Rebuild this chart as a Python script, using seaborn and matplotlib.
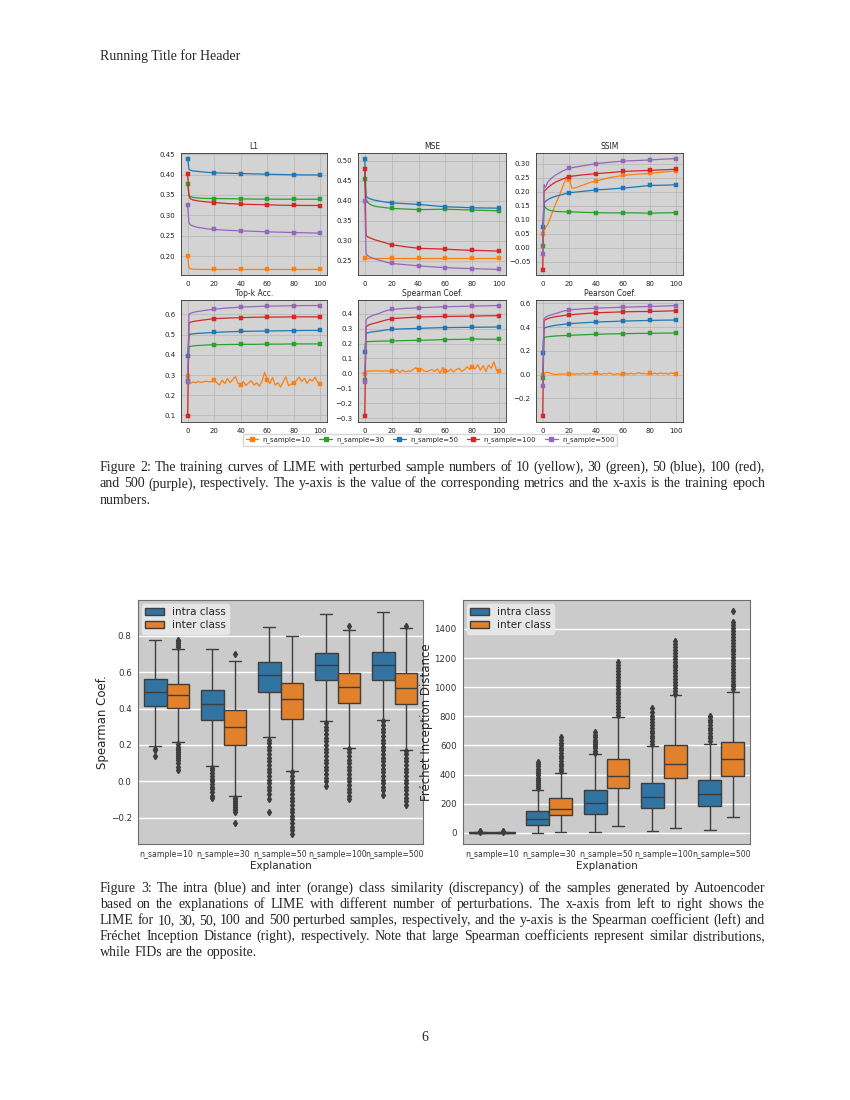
import matplotlib
matplotlib.use("Agg")
import matplotlib.pyplot as plt
from matplotlib.lines import Line2D
from matplotlib.ticker import MultipleLocator
import pandas as pd
import seaborn as sns

sns.set_theme(style="white")
plt.rcParams["font.family"] = ["DejaVu Sans"]

# ---------------------------------------------------------------- data: training curves
series_labels = ["n_sample=10", "n_sample=30", "n_sample=50", "n_sample=100", "n_sample=500"]
series_colors = ["#ff7f0e", "#2ca02c", "#1f77b4", "#d62728", "#9467bd"]

epochs = [0, 1, 2, 4, 7, 10, 15, 20, 30, 40, 50, 60, 70, 80, 90, 100]
epochs_fine = [0, 1] + list(range(2, 101, 2))
epochs_ssim10 = [0, 2, 4, 6, 8, 10, 12, 14, 16, 18, 19, 20, 21, 22, 24, 26, 28, 30, 35, 40,
                 50, 60, 70, 80, 90, 100]

l1_n10 = [0.200, 0.172, 0.169, 0.168, 0.1678, 0.1676, 0.1675, 0.1674, 0.1674, 0.1674, 0.1674, 0.1674, 0.1674, 0.1674, 0.1674, 0.1674]
l1_n30 = [0.377, 0.350, 0.346, 0.344, 0.343, 0.342, 0.3415, 0.3413, 0.341, 0.3405, 0.340, 0.3398, 0.3397, 0.3397, 0.3396, 0.3396]
l1_n50 = [0.4394, 0.414, 0.411, 0.409, 0.408, 0.407, 0.4055, 0.4043, 0.4035, 0.4026, 0.4018, 0.401, 0.4002, 0.3995, 0.3993, 0.3992]
l1_n100 = [0.4026, 0.347, 0.341, 0.338, 0.336, 0.3345, 0.333, 0.3315, 0.329, 0.3275, 0.3267, 0.326, 0.325, 0.3245, 0.3243, 0.3242]
l1_n500 = [0.325, 0.282, 0.277, 0.274, 0.271, 0.2695, 0.267, 0.2654, 0.2635, 0.262, 0.261, 0.2596, 0.2588, 0.258, 0.2572, 0.2564]

mse_n10 = [0.2567, 0.2567, 0.2567, 0.2567, 0.2567, 0.2567, 0.2567, 0.2567, 0.2567, 0.2567, 0.2567, 0.2567, 0.2567, 0.2567, 0.2567, 0.2567]
mse_n30 = [0.455, 0.405, 0.397, 0.391, 0.387, 0.385, 0.383, 0.381, 0.3795, 0.378, 0.3785, 0.379, 0.378, 0.3767, 0.376, 0.375]
mse_n50 = [0.506, 0.412, 0.408, 0.405, 0.402, 0.400, 0.397, 0.395, 0.393, 0.391, 0.388, 0.385, 0.384, 0.3825, 0.382, 0.3817]
mse_n100 = [0.480, 0.314, 0.310, 0.307, 0.303, 0.300, 0.295, 0.290, 0.285, 0.281, 0.280, 0.279, 0.277, 0.276, 0.275, 0.274]
mse_n500 = [0.399, 0.268, 0.263, 0.259, 0.255, 0.252, 0.247, 0.243, 0.240, 0.237, 0.2345, 0.2325, 0.231, 0.230, 0.229, 0.228]

ssim_n10 = [0.048, 0.070, 0.085, 0.110, 0.135, 0.160, 0.180, 0.205, 0.230, 0.252, 0.250, 0.242, 0.225, 0.212, 0.213, 0.216, 0.220, 0.223, 0.232, 0.238,
            0.250, 0.258, 0.262, 0.265, 0.270, 0.274]
ssim_n30 = [0.005, 0.152, 0.143, 0.135, 0.131, 0.129, 0.128, 0.128, 0.126, 0.125, 0.124, 0.124, 0.124, 0.123, 0.124, 0.125]
ssim_n50 = [0.072, 0.158, 0.165, 0.172, 0.179, 0.184, 0.190, 0.196, 0.201, 0.206, 0.209, 0.2125, 0.217, 0.222, 0.223, 0.2245]
ssim_n100 = [-0.079, 0.200, 0.205, 0.215, 0.226, 0.235, 0.245, 0.254, 0.260, 0.264, 0.268, 0.272, 0.274, 0.276, 0.278, 0.280]
ssim_n500 = [-0.024, 0.225, 0.215, 0.235, 0.250, 0.260, 0.274, 0.284, 0.292, 0.300, 0.305, 0.309, 0.311, 0.313, 0.316, 0.318]

topk_n10 = [0.297, 0.262, 0.258, 0.266, 0.262, 0.268, 0.263, 0.266, 0.270, 0.266, 0.268, 0.273, 0.262, 0.250, 0.275, 0.258,
            0.283, 0.262, 0.278, 0.293, 0.258, 0.251, 0.268, 0.248, 0.262, 0.272, 0.250, 0.262, 0.245, 0.268, 0.314, 0.276,
            0.258, 0.288, 0.250, 0.262, 0.240, 0.266, 0.292, 0.248, 0.255, 0.263, 0.272, 0.290, 0.268, 0.284, 0.258, 0.280,
            0.270, 0.290, 0.262, 0.255]
topk_n30 = [0.270, 0.440, 0.442, 0.444, 0.446, 0.447, 0.449, 0.450, 0.451, 0.452, 0.452, 0.453, 0.453, 0.454, 0.454, 0.454]
topk_n50 = [0.396, 0.498, 0.502, 0.504, 0.506, 0.507, 0.509, 0.511, 0.514, 0.516, 0.517, 0.518, 0.519, 0.520, 0.521, 0.521]
topk_n100 = [0.095, 0.556, 0.561, 0.565, 0.568, 0.571, 0.575, 0.579, 0.582, 0.584, 0.586, 0.587, 0.587, 0.588, 0.588, 0.588]
topk_n500 = [0.268, 0.600, 0.605, 0.610, 0.614, 0.617, 0.622, 0.626, 0.632, 0.636, 0.639, 0.641, 0.642, 0.643, 0.644, 0.644]

spear_n10 = [-0.004, 0.012, 0.016, 0.015, 0.017, 0.016, 0.017, 0.015, 0.016, 0.017, 0.016, 0.016, 0.012, 0.026, 0.006, 0.022,
             0.010, 0.016, 0.014, 0.027, 0.038, 0.022, 0.032, 0.016, 0.012, 0.018, 0.026, 0.012, 0.030, 0.002, 0.040, 0.016,
             0.012, 0.028, 0.010, 0.026, 0.034, 0.014, 0.024, 0.044, 0.028, 0.044, 0.030, 0.058, 0.022, 0.052, 0.012, 0.056,
             0.034, 0.078, 0.020, 0.018]
spear_n30 = [-0.044, 0.211, 0.213, 0.214, 0.215, 0.216, 0.217, 0.218, 0.220, 0.222, 0.224, 0.227, 0.228, 0.231, 0.229, 0.229]
spear_n50 = [0.144, 0.267, 0.272, 0.276, 0.280, 0.283, 0.290, 0.296, 0.299, 0.302, 0.305, 0.307, 0.308, 0.309, 0.310, 0.311]
spear_n100 = [-0.289, 0.311, 0.320, 0.328, 0.336, 0.343, 0.356, 0.367, 0.373, 0.378, 0.380, 0.382, 0.383, 0.384, 0.386, 0.387]
spear_n500 = [-0.055, 0.356, 0.370, 0.381, 0.392, 0.400, 0.418, 0.429, 0.436, 0.440, 0.444, 0.447, 0.449, 0.451, 0.453, 0.455]

pear_n10 = [0.000, 0.010, 0.016, 0.020, 0.010, 0.002, 0.000, 0.004, 0.003, 0.005, 0.004, 0.004, 0.006, 0.002, 0.008, 0.004,
            0.010, 0.003, 0.006, 0.012, 0.004, 0.012, 0.006, 0.002, 0.010, 0.004, 0.014, 0.004, 0.000, 0.008, 0.002, 0.004,
            0.010, 0.002, 0.012, 0.004, 0.008, 0.016, 0.006, 0.010, 0.004, 0.017, 0.006, 0.012, 0.004, 0.014, 0.006, 0.012,
            0.002, 0.014, 0.008, 0.006]
pear_n30 = [-0.032, 0.311, 0.315, 0.319, 0.322, 0.325, 0.328, 0.330, 0.335, 0.339, 0.342, 0.344, 0.346, 0.347, 0.349, 0.350]
pear_n50 = [0.182, 0.386, 0.395, 0.402, 0.410, 0.415, 0.422, 0.428, 0.436, 0.442, 0.446, 0.450, 0.453, 0.456, 0.458, 0.459]
pear_n100 = [-0.353, 0.450, 0.462, 0.472, 0.481, 0.488, 0.496, 0.503, 0.512, 0.520, 0.524, 0.528, 0.530, 0.531, 0.534, 0.537]
pear_n500 = [-0.094, 0.470, 0.482, 0.494, 0.505, 0.514, 0.533, 0.545, 0.553, 0.559, 0.563, 0.567, 0.570, 0.573, 0.577, 0.581]

# ---------------------------------------------------------------- data: box plots
box_groups = ["n_sample=10", "n_sample=30", "n_sample=50", "n_sample=100", "n_sample=500"]
box_classes = ["intra class", "inter class"]
box_colors = ["#1f77b4", "#ff7f0e"]

# (lower whisker, q1, median, q3, upper whisker)
sp_intra_stats = [(0.192, 0.415, 0.49, 0.565, 0.78), (0.085, 0.335, 0.425, 0.505, 0.73),
                  (0.245, 0.49, 0.585, 0.655, 0.85), (0.332, 0.555, 0.64, 0.705, 0.92),
                  (0.34, 0.56, 0.64, 0.71, 0.933)]
sp_inter_stats = [(0.215, 0.405, 0.475, 0.535, 0.728), (-0.08, 0.20, 0.30, 0.39, 0.66),
                  (0.055, 0.345, 0.455, 0.54, 0.80), (0.185, 0.43, 0.52, 0.595, 0.835),
                  (0.175, 0.425, 0.515, 0.595, 0.845)]
sp_intra_fliers = [
    [0.18, 0.17, 0.14],
    [0.075, 0.06, 0.045, 0.03, 0.015, 0.0, -0.015, -0.03, -0.045, -0.06, -0.08, -0.09],
    [0.23, 0.21, 0.19, 0.17, 0.15, 0.13, 0.11, 0.09, 0.07, 0.05, 0.03, 0.01, -0.01, -0.03, -0.05, -0.07, -0.10, -0.17],
    [0.32, 0.30, 0.28, 0.26, 0.24, 0.22, 0.20, 0.18, 0.16, 0.14, 0.12, 0.10, 0.08, 0.06, 0.04, 0.02, 0.0, -0.025],
    [0.33, 0.31, 0.29, 0.27, 0.25, 0.23, 0.21, 0.19, 0.17, 0.15, 0.13, 0.11, 0.09, 0.07, 0.05, 0.03, 0.01, -0.01, -0.03, -0.05, -0.075],
]
sp_inter_fliers = [
    [0.74, 0.75, 0.76, 0.77, 0.78, 0.205, 0.19, 0.18, 0.17, 0.16, 0.15, 0.14, 0.13, 0.12, 0.10, 0.08, 0.065],
    [0.70, -0.09, -0.10, -0.11, -0.12, -0.13, -0.14, -0.15, -0.16, -0.17, -0.23],
    [0.05, 0.03, 0.01, -0.01, -0.03, -0.05, -0.07, -0.09, -0.11, -0.13, -0.15, -0.17, -0.19, -0.21, -0.23, -0.25, -0.27, -0.29],
    [0.855, 0.18, 0.16, 0.14, 0.12, 0.10, 0.08, 0.06, 0.04, 0.02, 0.0, -0.02, -0.04, -0.06, -0.08, -0.10],
    [0.855, 0.165, 0.15, 0.13, 0.11, 0.09, 0.07, 0.05, 0.03, 0.01, -0.01, -0.03, -0.05, -0.07, -0.09, -0.11, -0.13],
]

fid_intra_stats = [(0, 1, 2, 3, 5), (2, 52, 95, 150, 293), (5, 128, 206, 295, 540),
                   (12, 172, 249, 343, 597), (22, 188, 265, 362, 613)]
fid_inter_stats = [(0, 1, 2, 3, 5), (8, 121, 167, 238, 412), (45, 307, 391, 506, 796),
                   (32, 375, 476, 605, 945), (110, 391, 506, 627, 970)]
fid_intra_fliers = [
    [8, 12],
    [305, 320, 335, 350, 365, 380, 395, 410, 425, 440, 460, 475, 490],
    [550, 565, 580, 595, 610, 625, 640, 655, 670, 690],
    [612, 630, 648, 666, 684, 700, 720, 740, 760, 780, 800, 830, 855],
    [632, 650, 668, 686, 704, 722, 740, 758, 776, 792, 805],
]
fid_inter_fliers = [
    [8, 12],
    [422, 440, 458, 476, 494, 512, 530, 548, 566, 584, 602, 620, 640, 660],
    [810, 830, 850, 870, 890, 910, 930, 950, 970, 990, 1010, 1030, 1050, 1070, 1090, 1110, 1130, 1150, 1170],
    [955, 975, 995, 1015, 1035, 1055, 1075, 1095, 1115, 1135, 1155, 1175, 1195, 1215, 1235, 1255, 1275, 1295, 1315],
    [985, 1005, 1025, 1045, 1065, 1085, 1105, 1125, 1145, 1165, 1185, 1205, 1225, 1245, 1265, 1285, 1305, 1325,
     1345, 1365, 1385, 1405, 1425, 1445, 1520],
]

# ---------------------------------------------------------------- text
header_text = "Running Title for Header"
cap2_lines = [
    "Figure 2: The training curves of LIME with perturbed sample numbers of 10 (yellow), 30 (green), 50 (blue), 100 (red),",
    "and 500 (purple), respectively. The y-axis is the value of the corresponding metrics and the x-axis is the training epoch",
    "numbers.",
]
cap3_lines = [
    "Figure 3: The intra (blue) and inter (orange) class similarity (discrepancy) of the samples generated by Autoencoder",
    "based on the explanations of LIME with different number of perturbations. The x-axis from left to right shows the",
    "LIME for 10, 30, 50, 100 and 500 perturbed samples, respectively, and the y-axis is the Spearman coefficient (left) and",
    "Fréchet Inception Distance (right), respectively. Note that large Spearman coefficients represent similar distributions,",
    "while FIDs are the opposite.",
]
page_number = "6"

# ---------------------------------------------------------------- figure
W, H = 850, 1100
fig = plt.figure(figsize=(8.5, 11), dpi=100)
fig.patch.set_facecolor("white")


def rect(l, t, r, b):
    return [l / W, 1 - b / H, (r - l) / W, (b - t) / H]


def marks(ep):
    return [i for i, e in enumerate(ep) if e % 20 == 0]


panels = [
    ("L1", (181, 153, 327, 275), 0.05, None, [(epochs, l1_n10), (epochs, l1_n30), (epochs, l1_n50), (epochs, l1_n100), (epochs, l1_n500)]),
    ("MSE", (358, 153, 506, 275), 0.05, None, [(epochs, mse_n10), (epochs, mse_n30), (epochs, mse_n50), (epochs, mse_n100), (epochs, mse_n500)]),
    ("SSIM", (536, 153, 683, 275), 0.05, (-0.098, 0.338), [(epochs_ssim10, ssim_n10), (epochs, ssim_n30), (epochs, ssim_n50), (epochs, ssim_n100), (epochs, ssim_n500)]),
    ("Top-k Acc.", (181, 300, 327, 422), 0.1, None, [(epochs_fine, topk_n10), (epochs, topk_n30), (epochs, topk_n50), (epochs, topk_n100), (epochs, topk_n500)]),
    ("Spearman Coef.", (358, 300, 506, 422), 0.1, None, [(epochs_fine, spear_n10), (epochs, spear_n30), (epochs, spear_n50), (epochs, spear_n100), (epochs, spear_n500)]),
    ("Pearson Coef.", (536, 300, 683, 422), 0.2, None, [(epochs_fine, pear_n10), (epochs, pear_n30), (epochs, pear_n50), (epochs, pear_n100), (epochs, pear_n500)]),
]

for title, box, ystep, ylim, series in panels:
    ax = fig.add_axes(rect(*box))
    ax.set_facecolor("#d3d3d3")
    for (ep, vals), col in zip(series, series_colors):
        sns.lineplot(x=ep, y=vals, ax=ax, color=col, linewidth=0.9, marker="s", markersize=3.0,
                     markevery=marks(ep), markeredgecolor=col, markeredgewidth=0.3, legend=False)
    ax.set_title(title, fontsize=5.5, pad=3)
    ax.set_xticks([0, 20, 40, 60, 80, 100])
    ax.yaxis.set_major_locator(MultipleLocator(ystep))
    if ylim is not None:
        ax.set_ylim(*ylim)
    ax.tick_params(labelsize=5, length=2.5, width=0.5, pad=1.5, colors="#222222")
    ax.grid(True, color="#b4b4b4", linewidth=0.5)
    ax.set_axisbelow(True)
    for sp in ax.spines.values():
        sp.set_visible(True)
        sp.set_color("#333333")
        sp.set_linewidth(0.6)
    ax.set_xlabel("")
    ax.set_ylabel("")

handles = [Line2D([], [], color=c, marker="s", markersize=3.0, linewidth=0.9) for c in series_colors]
fig.legend(handles, series_labels, loc="center", bbox_to_anchor=(430 / W, 1 - 440 / H), ncol=5,
           fontsize=5, frameon=True, handlelength=1.8, columnspacing=1.3, handletextpad=0.6,
           borderpad=0.4, edgecolor="#cccccc", fancybox=True)


# ---------------------------------------------------------------- box plots
def box_frame(intra_stats, intra_fl, inter_stats, inter_fl, rep=200):
    xs, hs, vs = [], [], []
    for cls, stats, fls in ((box_classes[0], intra_stats, intra_fl), (box_classes[1], inter_stats, inter_fl)):
        for g, (lo, q1, med, q3, hi), fl in zip(box_groups, stats, fls):
            vals = [lo, hi] + [q1] * rep + [med] * rep + [q3] * rep + list(fl)
            xs += [g] * len(vals)
            hs += [cls] * len(vals)
            vs += vals
    return pd.DataFrame({"Explanation": xs, "class": hs, "value": vs})


def draw_box(ax, df, ylabel, ylim):
    ax.set_facecolor("#cbcbcb")
    sns.boxplot(data=df, x="Explanation", y="value", hue="class", order=box_groups, hue_order=box_classes,
                palette=box_colors, saturation=0.75, width=0.8, linewidth=1.0, linecolor="#3d3d3d",
                fliersize=3.2, ax=ax,
                flierprops=dict(marker="d", markerfacecolor="#3d3d3d", markeredgecolor="#3d3d3d"))
    ax.set_ylim(*ylim)
    ax.yaxis.grid(True, color="white", linewidth=1.0)
    ax.xaxis.grid(False)
    ax.set_axisbelow(True)
    ax.set_ylabel(ylabel, fontsize=8.5, labelpad=1)
    ax.set_xlabel("Explanation", fontsize=7.5, labelpad=1)
    ax.tick_params(axis="x", labelsize=5.6, length=2.5, width=0.6, colors="#333333", pad=2)
    ax.tick_params(axis="y", labelsize=6.3, length=2.5, width=0.6, colors="#333333", pad=2)
    for sp in ax.spines.values():
        sp.set_visible(True)
        sp.set_color("#6e6e6e")
        sp.set_linewidth(0.8)
    h, l = ax.get_legend_handles_labels()
    ax.legend(h, l, loc="upper left", fontsize=7.5, frameon=True, borderpad=0.3,
              handlelength=1.8, labelspacing=0.3, facecolor="#e6e6e6", edgecolor="#e6e6e6",
              framealpha=1.0, borderaxespad=0.4)


ax_sp = fig.add_axes(rect(138, 600, 423, 844))
draw_box(ax_sp, box_frame(sp_intra_stats, sp_intra_fliers, sp_inter_stats, sp_inter_fliers),
         "Spearman Coef.", (-0.345, 0.998))

ax_fid = fig.add_axes(rect(463, 600, 750, 844))
draw_box(ax_fid, box_frame(fid_intra_stats, fid_intra_fliers, fid_inter_stats, fid_inter_fliers),
         "Fréchet Inception Distance", (-76, 1598))

# ---------------------------------------------------------------- page text
serif = ["Liberation Serif", "DejaVu Serif"]
renderer = fig.canvas.get_renderer()


def justified_line(y, text, justify=True, x0=100, x1=765, size=10):
    words = text.split(" ")
    arts = [fig.text(0, 0, w, fontsize=size, family=serif, va="baseline", ha="left") for w in words]
    widths = [a.get_window_extent(renderer).width for a in arts]
    space = size * 0.25 * 100 / 72
    if justify and len(words) > 1:
        gap = ((x1 - x0) - sum(widths)) / (len(words) - 1)
    else:
        gap = space
    x = x0
    for a, w in zip(arts, widths):
        a.set_position((x / W, 1 - y / H))
        x += w + gap


fig.text(100 / W, 1 - 60 / H, header_text, fontsize=10, family=serif, va="baseline", ha="left")
for i, line in enumerate(cap2_lines):
    justified_line(471 + 16.5 * i, line, justify=(i < len(cap2_lines) - 1))
for i, line in enumerate(cap3_lines):
    justified_line(892 + 16 * i, line, justify=(i < len(cap3_lines) - 1))
fig.text(425 / W, 1 - 1041 / H, page_number, fontsize=10, family=serif, va="baseline", ha="center")

fig.savefig("out.png", dpi=100, facecolor="white")
